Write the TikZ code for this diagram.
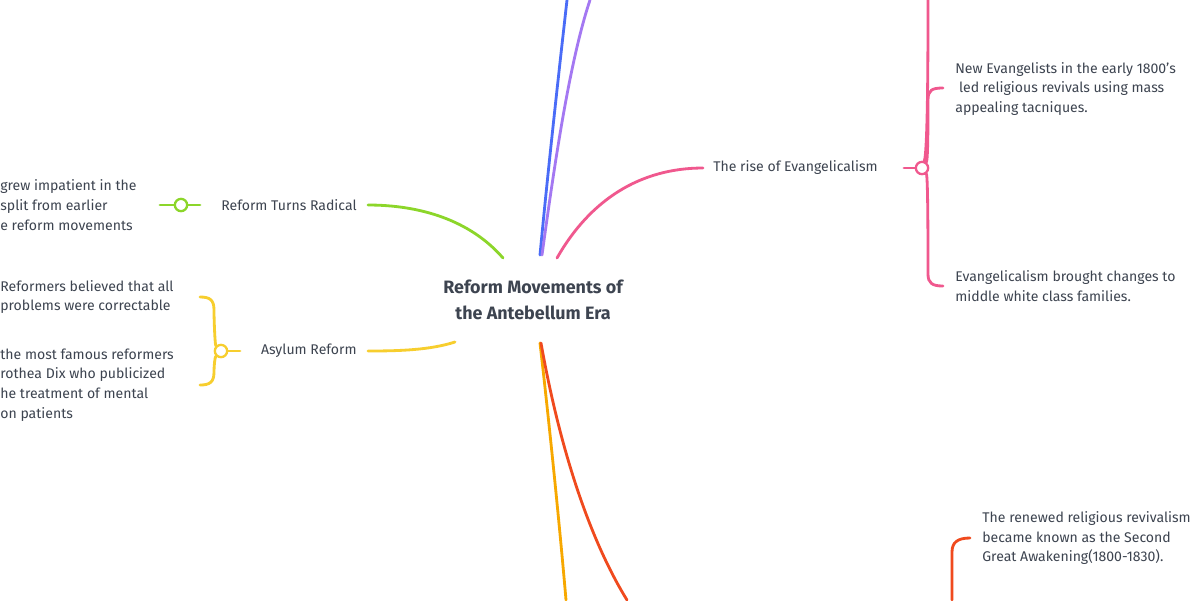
\documentclass[tikz,border=0pt]{standalone}
\usepackage{fontspec}
\setmainfont{Fira Sans}
\usetikzlibrary{positioning}
\definecolor{txt}{HTML}{3D4450}
\definecolor{cblue}{HTML}{4A6CF7}
\definecolor{cpurple}{HTML}{A478F2}
\definecolor{cpink}{HTML}{F0588E}
\definecolor{cgreen}{HTML}{8CD62A}
\definecolor{cyellow}{HTML}{F7CE2E}
\definecolor{corange}{HTML}{F7A800}
\definecolor{cred}{HTML}{F04A1E}
\tikzset{
    label/.style={text=txt, font=\fontsize{8}{10}\selectfont, inner sep=0pt},
    note/.style={label, align=left, font=\fontsize{8}{11.2}\selectfont},
    knob/.style={circle, draw=#1, fill=white, line width=1.3pt, minimum size=7pt, inner sep=0pt},
    branch/.style={line width=1.6pt, #1, line cap=round}
}
\begin{document}
\begin{tikzpicture}[x=0.02cm, y=-0.02cm]
    \useasboundingbox (0, 0) rectangle (1200, 600);
    \clip (0, 0) rectangle (1200, 600);
    \fill[white] (0, 0) rectangle (1200, 600);
    % hub
    \node[text=txt, font=\fontsize{10.2}{15}\selectfont\bfseries, align=center] (hub) at (533, 300) {Reform Movements of\\the Antebellum Era};
    % top branches
    \coordinate (blueTop) at (567, 0);
    \coordinate (purpleTop) at (590, 0);
    \draw[branch=cblue] (540, 255) .. controls (548, 170) and (558, 80) .. (blueTop);
    \draw[branch=cpurple] (542, 255) .. controls (555, 160) and (570, 60) .. (purpleTop);
    % evangelicalism
    \node[label, anchor=west] (evan) at (713, 168) {The rise of Evangelicalism};
    \node[knob=cpink] (evanK) at (922, 168) {};
    \draw[branch=cpink] (557, 258) .. controls (590, 200) and (640, 168) .. (703, 168);
    \draw[branch=cpink] (904, 168) -- (evanK);
    \node[note, anchor=west] (evan1) at (955, 89) {New Evangelists in the early 1800's\\ \ led religious revivals using mass\\appealing tacniques.};
    \node[note, anchor=west] (evan2) at (955, 286) {Evangelicalism brought changes to\\middle white class families.};
    \draw[branch=cpink] (evanK) .. controls (928, 160) and (928, 120) .. (928, 100) .. controls (928, 90) and (932, 88) .. (943, 88);
    \draw[branch=cpink] (evanK) .. controls (928, 176) and (928, 250) .. (928, 274) .. controls (928, 283) and (932, 286) .. (943, 286);
    \draw[branch=cpink] (evanK) .. controls (928, 150) and (928, 40) .. (928, 0);
    % reform turns radical
    \node[label, anchor=east] (radical) at (357, 205) {Reform Turns Radical};
    \node[knob=cgreen] (radicalK) at (181, 205) {};
    \draw[branch=cgreen] (503, 258) .. controls (470, 220) and (420, 205) .. (368, 205);
    \draw[branch=cgreen] (200, 205) -- (radicalK) -- (160, 205);
    \node[note, anchor=west] (radical1) at (0, 205) {grew impatient in the\\split from earlier\\e reform movements};
    % asylum reform
    \node[label, anchor=east] (asylum) at (357, 351) {Asylum Reform};
    \node[knob=cyellow] (asylumK) at (221, 351) {};
    \draw[branch=cyellow] (455, 342) .. controls (430, 350) and (400, 351) .. (368, 351);
    \draw[branch=cyellow] (240, 351) -- (asylumK);
    \node[note, anchor=west] (asylum1) at (0, 297) {Reformers believed that all\\problems were correctable};
    \node[note, anchor=west] (asylum2) at (0, 385) {the most famous reformers\\rothea Dix who publicized\\he treatment of mental\\on patients};
    \draw[branch=cyellow] (asylumK) .. controls (215, 345) and (214, 320) .. (214, 310) .. controls (214, 300) and (210, 297) .. (200, 297);
    \draw[branch=cyellow] (asylumK) .. controls (215, 357) and (214, 365) .. (214, 372) .. controls (214, 382) and (210, 385) .. (200, 385);
    % bottom branches
    \coordinate (orangeEnd) at (566, 600);
    \coordinate (redEnd) at (627, 600);
    \draw[branch=corange] (540, 343) .. controls (550, 430) and (560, 530) .. (orangeEnd);
    \draw[branch=cred] (541, 343) .. controls (560, 450) and (590, 540) .. (redEnd);
    % second great awakening
    \node[note, anchor=west] (awake) at (982, 538) {The renewed religious revivalism\\became known as the Second\\Great Awakening(1800-1830).};
    \draw[branch=cred] (952, 600) -- (952, 552) .. controls (952, 542) and (958, 538) .. (970, 538);
\end{tikzpicture}
\end{document}
